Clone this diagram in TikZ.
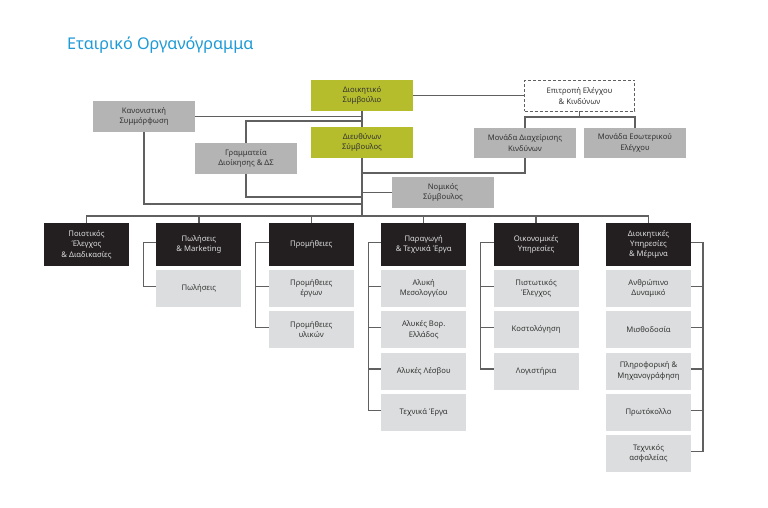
\documentclass[tikz,border=0pt]{standalone}
\usepackage{fontspec}
\setmainfont{Noto Sans}
\usetikzlibrary{calc}
\definecolor{titleblue}{HTML}{1E9BD7}
\definecolor{board}{HTML}{B5BD2C}
\definecolor{midgray}{HTML}{B4B4B4}
\definecolor{lightgraybox}{HTML}{DCDDDE}
\definecolor{darkbox}{HTML}{231F20}
\definecolor{linegray}{HTML}{606060}
\definecolor{txtgray}{HTML}{333333}
\begin{document}
\begin{tikzpicture}[x=1pt,y=-1pt,
 box/.style={rectangle, inner sep=0pt, outer sep=0pt, align=center, font=\fontsize{7.7}{10.4}\selectfont, text=txtgray},
 topbox/.style={box, fill=board, minimum width=102pt, minimum height=31pt},
 staff/.style={box, fill=midgray, minimum width=102pt, minimum height=31pt},
 unitbox/.style={box, fill=midgray, minimum width=102pt, minimum height=30pt},
 hdr/.style={box, fill=darkbox, text=white!88!black, minimum width=85pt, minimum height=43pt},
 sub/.style={box, fill=lightgraybox, minimum width=85pt, minimum height=37pt},
 committee/.style={box, draw=linegray, line width=1.2pt, dash pattern=on 3pt off 2pt, fill=white, minimum width=110pt, minimum height=31pt},
 link/.style={draw=linegray, line width=1.3pt},
 titlestyle/.style={font=\fontsize{16.2}{19}\selectfont, text=titleblue, inner sep=0pt, anchor=base west}
]
\useasboundingbox[fill=white] (0,0) rectangle (768,508);
\node[titlestyle] (title) at (67,50) {Εταιρικό Οργανόγραμμα};

% top level
\node[topbox, anchor=north west] (boardn) at (311,80) {Διοικητικό\\Συμβούλιο};
\node[topbox, anchor=north west] (ceo) at (311,127) {Διευθύνων\\Σύμβουλος};
\node[staff, anchor=north west] (comp) at (93,101) {Κανονιστική\\Συμμόρφωση};
\node[staff, anchor=north west] (sec) at (195,143) {Γραμματεία\\Διοίκησης \& ΔΣ};
\node[staff, anchor=north west] (legal) at (392,177) {Νομικός\\Σύμβουλος};
\node[committee, anchor=north west] (comm) at (524.5,80.5) {Επιτροπή Ελέγχου\\\& Κινδύνων};
\node[unitbox, anchor=north west] (risk) at (474,128) {Μονάδα Διαχείρισης\\Κινδύνων};
\node[unitbox, anchor=north west] (audit) at (584,128) {Μονάδα Εσωτερικού\\Ελέγχου};

\coordinate (bar) at (362,216);
\coordinate (s121) at (362,121);
\coordinate (s173) at (362,173);
\coordinate (s197) at (362,197);
\coordinate (s204) at (362,204);
\coordinate (cj) at (579.5,117);

\draw[link] (boardn.south) -- (ceo.north);
\draw[link] (ceo.south) -- (bar);
\draw[link] (comp.east) -- (comp.east -| boardn.south);
\draw[link] (comp.south) |- (s204);
\draw[link] (sec.north) |- (s121);
\draw[link] (sec.south) |- (s197);
\draw[link] (legal.west) -- (legal.west -| ceo.south);
\draw[link] (risk.south) |- (s173);
\draw[link] (boardn.east) -- (boardn.east -| comm.west);
\draw[link] (comm.south) -- (cj);
\draw[link] (risk.north) |- (cj) -| (audit.north);

% departments
\foreach \i/\txt in {1/{Ποιοτικός\\Έλεγχος\\\& Διαδικασίες},2/{Πωλήσεις\\\& Marketing},3/{Προμήθειες},4/{Παραγωγή\\\& Τεχνικά Έργα},5/{Οικονομικές\\Υπηρεσίες},6/{Διοικητικές\\Υπηρεσίες\\\& Μέριμνα}}{
  \node[hdr, anchor=north] (h\i) at ({86.5+112.4*(\i-1)},223) {\txt};
}
\draw[link] (h1.north) |- (bar) -| (h6.north);
\foreach \i in {2,3,4,5}{\draw[link] (h\i.north) -- (h\i.north |- bar);}

% sub units
\foreach \i/\j/\txt in {2/1/{Πωλήσεις},
  3/1/{Προμήθειες\\έργων},3/2/{Προμήθειες\\υλικών},
  4/1/{Αλυκή\\Μεσολογγίου},4/2/{Αλυκές Βορ.\\Ελλάδος},4/3/{Αλυκές Λέσβου},4/4/{Τεχνικά Έργα},
  5/1/{Πιστωτικός\\Έλεγχος},5/2/{Κοστολόγηση},5/3/{Λογιστήρια},
  6/1/{Ανθρώπινο\\Δυναμικό},6/2/{Μισθοδοσία},6/3/{Πληροφορική \&\\Μηχανογράφηση},6/4/{Πρωτόκολλο},6/5/{Τεχνικός\\ασφαλείας}}{
  \node[sub, anchor=north] (s\i\j) at ({86.5+112.4*(\i-1)},{270+41.25*(\j-1)}) {\txt};
}

% brackets (left side)
\foreach \i/\n in {2/1,3/2,4/4,5/3}{
  \draw[link] ([yshift=2pt]h\i.west) -| ([xshift=-13pt,yshift=2pt]s\i\n.west) -- ([yshift=2pt]s\i\n.west);
}
\foreach \i/\j in {3/1,4/1,4/2,4/3,5/1,5/2}{
  \draw[link] ([xshift=-13pt,yshift=2pt]s\i\j.west) -- ([yshift=2pt]s\i\j.west);
}
% bracket (right side)
\draw[link] ([yshift=2pt]h6.east) -| ([xshift=12pt,yshift=2pt]s65.east) -- ([yshift=2pt]s65.east);
\foreach \j in {1,2,3,4}{
  \draw[link] ([xshift=12pt,yshift=2pt]s6\j.east) -- ([yshift=2pt]s6\j.east);
}
\end{tikzpicture}
\end{document}
